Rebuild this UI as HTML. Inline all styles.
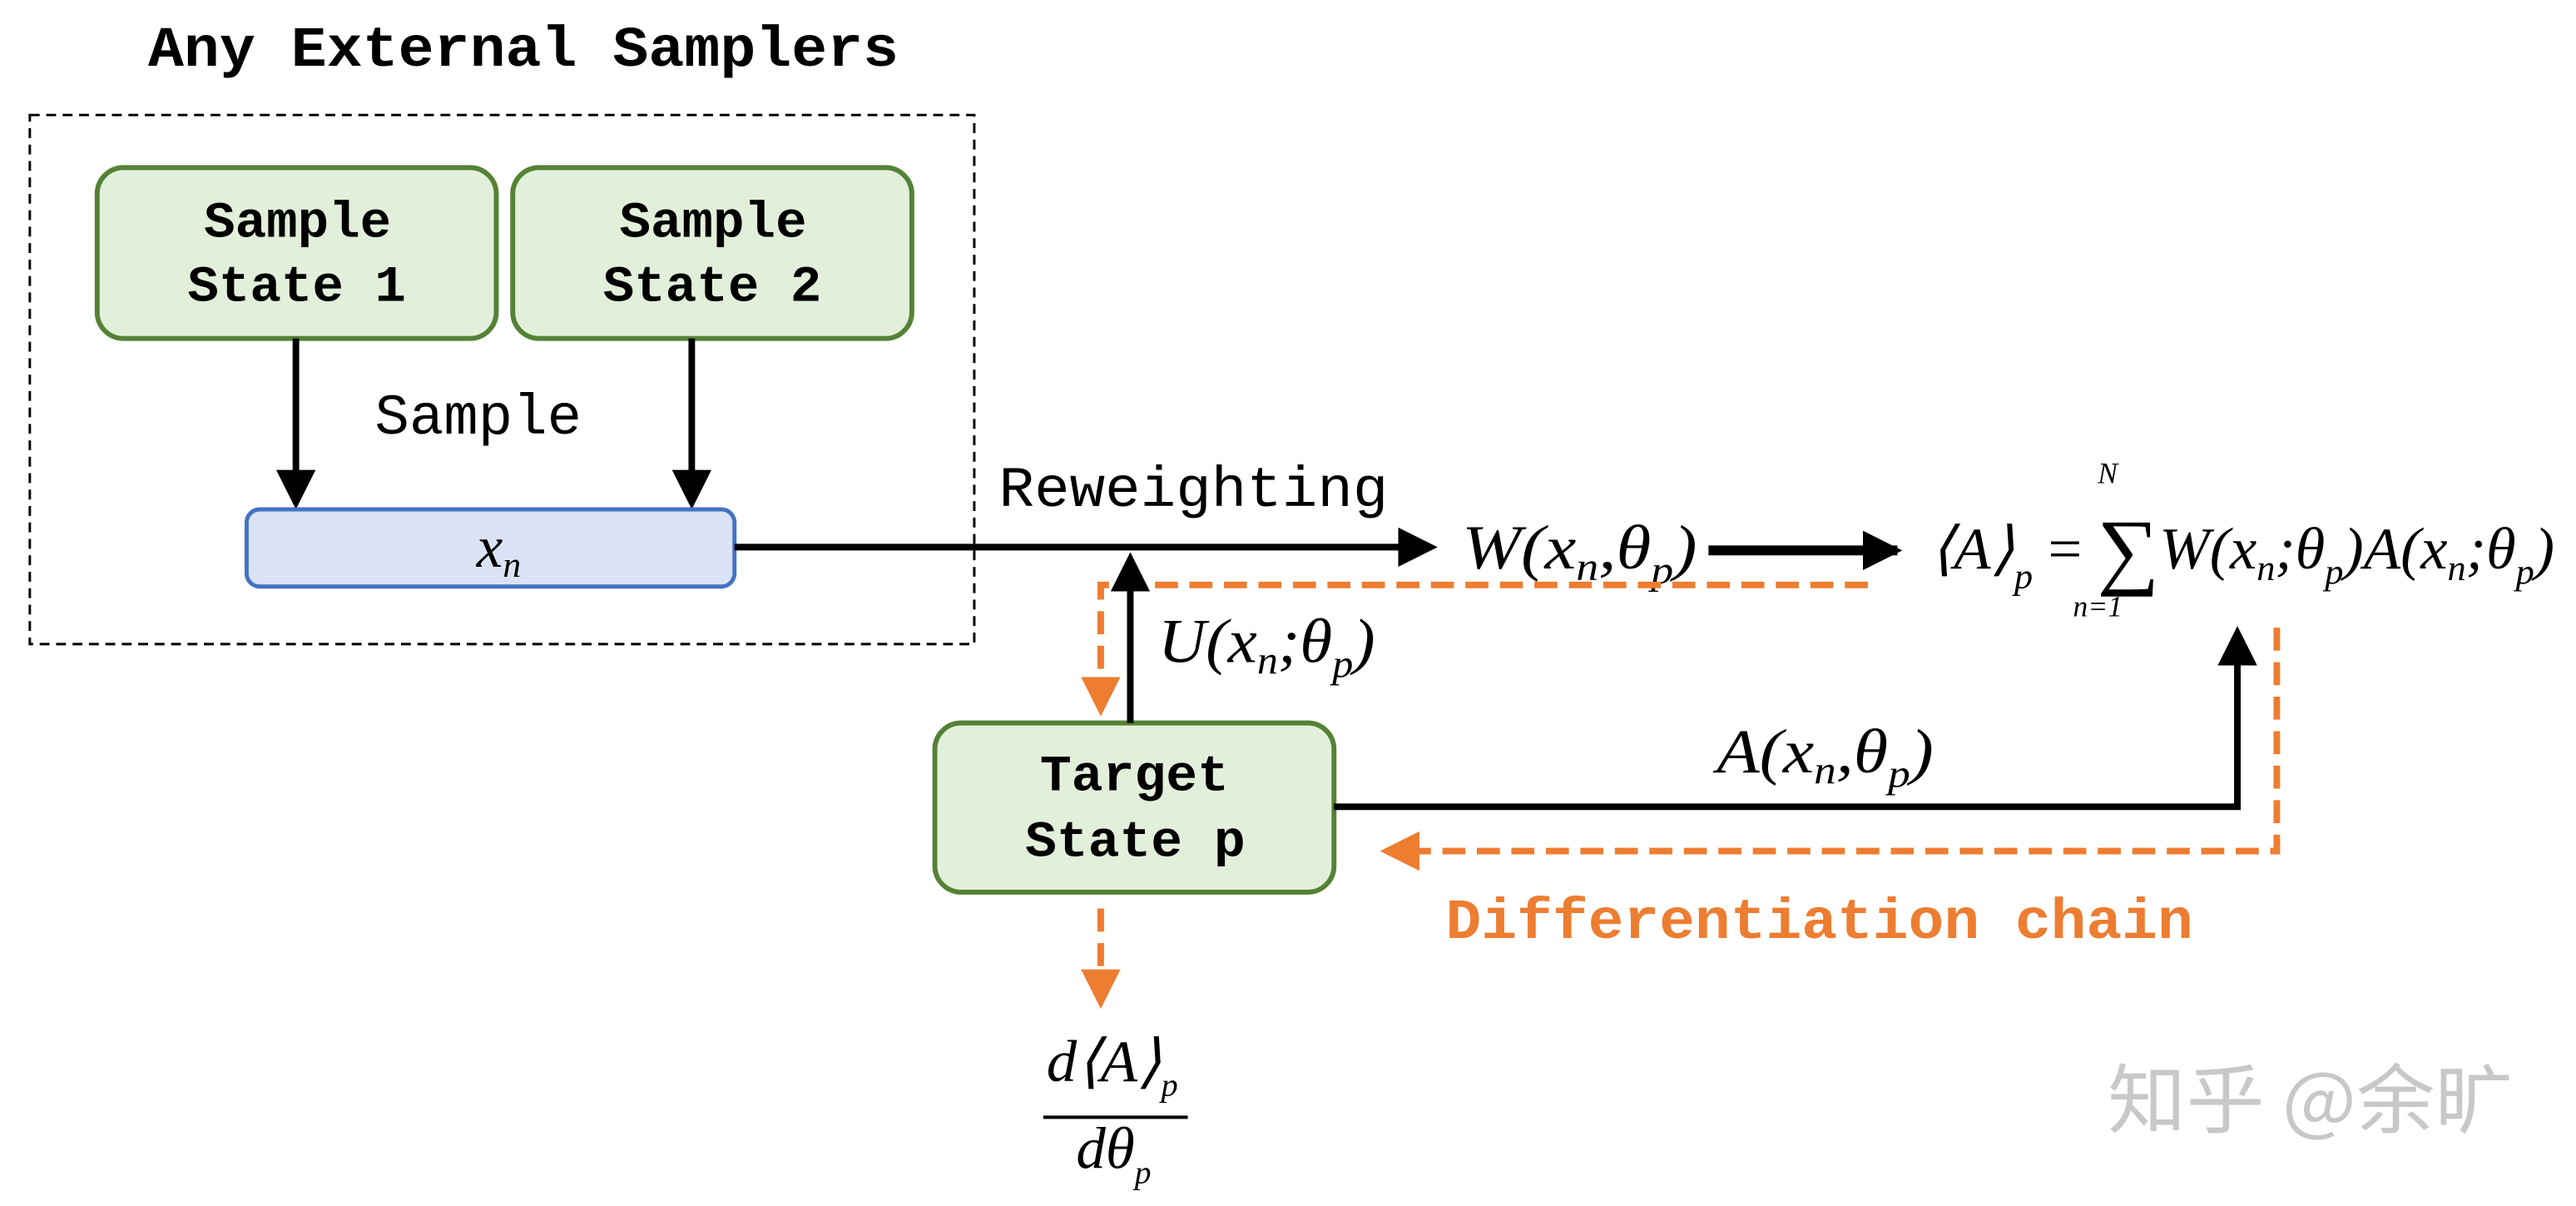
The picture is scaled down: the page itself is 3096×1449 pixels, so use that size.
<!DOCTYPE html>
<html><head><meta charset="utf-8"><style>
html,body{margin:0;padding:0;background:#fff;width:3096px;height:1449px;overflow:hidden}
svg{display:block}
.m{font-family:"Liberation Mono",monospace}
.t{font-family:"Liberation Serif",serif;font-style:italic}
</style></head><body>
<svg width="3096" height="1449" viewBox="0 0 1568 734" xmlns="http://www.w3.org/2000/svg">
<defs>
<marker id="ab" markerWidth="6" markerHeight="6" refX="5" refY="3" orient="auto" markerUnits="strokeWidth"><path d="M0,0 L6,3 L0,6 z" fill="#000"/></marker>
<marker id="ab2" markerWidth="4" markerHeight="4" refX="3.5" refY="2" orient="auto" markerUnits="strokeWidth"><path d="M0,0 L4,2 L0,4 z" fill="#000"/></marker>
<marker id="ao" markerWidth="6" markerHeight="6" refX="5" refY="3" orient="auto" markerUnits="strokeWidth"><path d="M0,0 L6,3 L0,6 z" fill="#ed7d31"/></marker>
</defs>
<text x="90" y="40" class="m" font-size="35" font-weight="bold" textLength="457" lengthAdjust="spacingAndGlyphs">Any External Samplers</text>
<rect x="18" y="70" width="575" height="322" fill="none" stroke="#000" stroke-width="1.5" stroke-dasharray="6,4"/>
<rect x="59" y="102" width="243" height="104" rx="16" fill="#e2efda" stroke="#548235" stroke-width="3"/>
<rect x="312" y="102" width="243" height="104" rx="16" fill="#e2efda" stroke="#548235" stroke-width="3"/>
<rect x="569" y="440" width="243" height="103" rx="16" fill="#e2efda" stroke="#548235" stroke-width="3"/>
<g class="m" font-size="31" font-weight="bold">
<text x="124" y="144" textLength="114" lengthAdjust="spacingAndGlyphs">Sample</text><text x="114" y="183" textLength="133" lengthAdjust="spacingAndGlyphs">State 1</text>
<text x="377" y="144" textLength="114" lengthAdjust="spacingAndGlyphs">Sample</text><text x="367" y="183" textLength="133" lengthAdjust="spacingAndGlyphs">State 2</text>
<text x="633" y="481" textLength="115" lengthAdjust="spacingAndGlyphs">Target</text><text x="624" y="521" textLength="134" lengthAdjust="spacingAndGlyphs">State p</text>
</g>
<line x1="180" y1="206" x2="180" y2="306" stroke="#000" stroke-width="4" marker-end="url(#ab)"/>
<line x1="421" y1="206" x2="421" y2="306" stroke="#000" stroke-width="4" marker-end="url(#ab)"/>
<text x="228" y="264" class="m" font-size="35" textLength="126" lengthAdjust="spacingAndGlyphs">Sample</text>
<rect x="150" y="310" width="297" height="47" rx="8" fill="#dae3f3" stroke="#4472c4" stroke-width="2.5"/>
<text x="290" y="345" class="t" font-size="36">x<tspan font-size="22" dy="6">n</tspan></text>
<line x1="447" y1="333" x2="871" y2="333" stroke="#000" stroke-width="4" marker-end="url(#ab)"/>
<text x="608" y="308" class="m" font-size="35" textLength="237" lengthAdjust="spacingAndGlyphs">Reweighting</text>
<text x="890" y="346" class="t" font-size="38" textLength="143" lengthAdjust="spacingAndGlyphs">W(x<tspan font-size="24" dy="7">n</tspan><tspan dy="-7">,θ</tspan><tspan font-size="24" dy="9">p</tspan><tspan dy="-9">)</tspan></text>
<line x1="1040" y1="335" x2="1155" y2="335" stroke="#000" stroke-width="6" marker-end="url(#ab2)" />
<text x="1175" y="346" class="t" font-size="36" textLength="380" lengthAdjust="spacingAndGlyphs">⟨A⟩<tspan font-size="22" dy="12">p</tspan><tspan dy="-12" font-style="normal"> = </tspan><tspan font-style="normal" font-size="52" dy="6">∑</tspan><tspan dy="-6">W(x</tspan><tspan font-size="22" dy="7">n</tspan><tspan dy="-7">;θ</tspan><tspan font-size="22" dy="9">p</tspan><tspan dy="-9">)A(x</tspan><tspan font-size="22" dy="7">n</tspan><tspan dy="-7">;θ</tspan><tspan font-size="22" dy="9">p</tspan><tspan dy="-9">)</tspan></text>
<text x="1283" y="294" class="t" font-size="18" text-anchor="middle">N</text>
<text x="1277" y="375" class="t" font-size="18" text-anchor="middle">n=1</text>
<polyline points="1137,356 670,356 670,432" fill="none" stroke="#ed7d31" stroke-width="4" stroke-dasharray="14,7" marker-end="url(#ao)"/>
<line x1="688" y1="440" x2="688" y2="340" stroke="#000" stroke-width="4" marker-end="url(#ab)"/>
<text x="705" y="403" class="t" font-size="38" textLength="132" lengthAdjust="spacingAndGlyphs">U(x<tspan font-size="24" dy="7">n</tspan><tspan dy="-7">;θ</tspan><tspan font-size="24" dy="9">p</tspan><tspan dy="-9">)</tspan></text>
<polyline points="812,491 1362,491 1362,385" fill="none" stroke="#000" stroke-width="4" marker-end="url(#ab)"/>
<text x="1045" y="470" class="t" font-size="38" textLength="132" lengthAdjust="spacingAndGlyphs">A(x<tspan font-size="24" dy="7">n</tspan><tspan dy="-7">,θ</tspan><tspan font-size="24" dy="9">p</tspan><tspan dy="-9">)</tspan></text>
<polyline points="1386,382 1386,518 844,518" fill="none" stroke="#ed7d31" stroke-width="4" stroke-dasharray="14,7" marker-end="url(#ao)"/>
<text x="880" y="571" class="m" font-size="35" font-weight="bold" fill="#ed7d31" textLength="455" lengthAdjust="spacingAndGlyphs">Differentiation chain</text>
<line x1="670" y1="553" x2="670" y2="610" stroke="#ed7d31" stroke-width="4" stroke-dasharray="14,7" marker-end="url(#ao)"/>
<text x="637" y="658" class="t" font-size="36" textLength="80" lengthAdjust="spacingAndGlyphs">d⟨A⟩<tspan font-size="20" dy="9">p</tspan></text>
<line x1="635" y1="680" x2="723" y2="680" stroke="#000" stroke-width="2"/>
<text x="655" y="711" class="t" font-size="36">dθ<tspan font-size="20" dy="9">p</tspan></text>
<text x="1283" y="686" font-family="'Noto Sans CJK SC',sans-serif" font-size="46" fill="#c8c8c8" textLength="247" lengthAdjust="spacingAndGlyphs">知乎 @余旷</text>
</svg>
</body></html>
